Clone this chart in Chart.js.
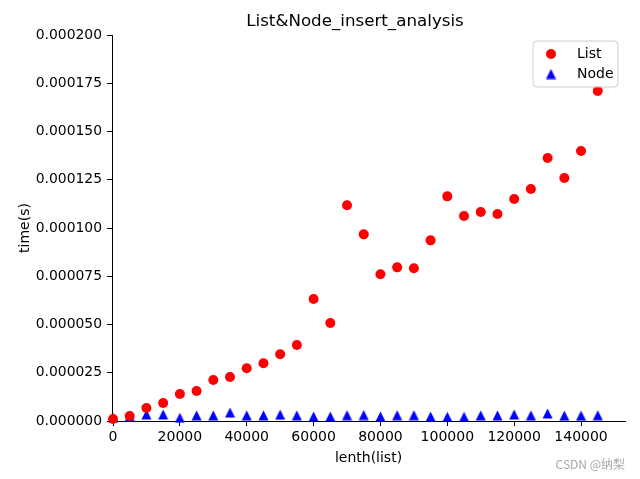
<!DOCTYPE html>
<html>
<head>
<meta charset="utf-8">
<script src="https://cdn.jsdelivr.net/npm/chart.js@4/dist/chart.umd.min.js"></script>
<style>
  html, body { margin: 0; padding: 0; background: #fff; }
  #wrap { width: 640px; height: 479px; position: relative; }
</style>
</head>
<body>
<div id="wrap"><canvas id="insertChart" width="640" height="479"></canvas></div>
<script>
// list length used for each test
const lengths = [0, 5000, 10000, 15000, 20000, 25000, 30000, 35000, 40000, 45000,
  50000, 55000, 60000, 65000, 70000, 75000, 80000, 85000, 90000, 95000,
  100000, 105000, 110000, 115000, 120000, 125000, 130000, 135000, 140000, 145000];

// insert time in seconds
const listTimes = [0.0000010, 0.0000026, 0.0000067, 0.0000093, 0.0000140, 0.0000155, 0.0000212, 0.0000228, 0.0000273, 0.0000299,
  0.0000346, 0.0000394, 0.0000632, 0.0000508, 0.0001118, 0.0000967, 0.0000760, 0.0000796, 0.0000791, 0.0000936,
  0.0001164, 0.0001062, 0.0001083, 0.0001073, 0.0001150, 0.0001202, 0.0001363, 0.0001259, 0.0001399, 0.0001710];
const nodeTimes = [0.0000017, 0.0000024, 0.0000034, 0.0000034, 0.0000017, 0.0000029, 0.0000029, 0.0000044, 0.0000029, 0.0000029,
  0.0000033, 0.0000029, 0.0000023, 0.0000023, 0.0000030, 0.0000031, 0.0000023, 0.0000030, 0.0000030, 0.0000023,
  0.0000022, 0.0000022, 0.0000029, 0.0000029, 0.0000034, 0.0000029, 0.0000039, 0.0000028, 0.0000028, 0.0000030];

const xTicks = [0, 20000, 40000, 60000, 80000, 100000, 120000, 140000];
const yTicks = [0, 0.000025, 0.00005, 0.000075, 0.0001, 0.000125, 0.00015, 0.000175, 0.0002];

const font = "'DejaVu Sans', sans-serif";

// matplotlib style triangle ('^'), centered on its box
function triangleMarker(color) {
  const c = document.createElement('canvas');
  c.width = 11; c.height = 11;
  const g = c.getContext('2d');
  g.fillStyle = color;
  g.beginPath();
  g.moveTo(5.5, 0.5);
  g.lineTo(10.5, 10.5);
  g.lineTo(0.5, 10.5);
  g.closePath();
  g.fill();
  return c;
}
const nodeMarker = triangleMarker('#0000ff');

const extras = {
  id: 'extras',
  afterDraw(chart) {
    const ctx = chart.ctx;
    ctx.save();
    // title
    ctx.fillStyle = '#000';
    ctx.font = "16.7px " + font;
    ctx.textAlign = 'center';
    ctx.textBaseline = 'middle';
    ctx.fillText('List&Node_insert_analysis', 355, 22);

    // legend box
    const bx = 533, by = 41, bw = 85, bh = 46, r = 4;
    ctx.beginPath();
    ctx.moveTo(bx + r, by);
    ctx.arcTo(bx + bw, by, bx + bw, by + bh, r);
    ctx.arcTo(bx + bw, by + bh, bx, by + bh, r);
    ctx.arcTo(bx, by + bh, bx, by, r);
    ctx.arcTo(bx, by, bx + bw, by, r);
    ctx.closePath();
    ctx.fillStyle = 'rgba(255,255,255,0.8)';
    ctx.fill();
    ctx.strokeStyle = '#cccccc';
    ctx.lineWidth = 1;
    ctx.stroke();

    ctx.fillStyle = '#ff0000';
    ctx.beginPath();
    ctx.arc(551, 54, 5, 0, Math.PI * 2);
    ctx.fill();
    ctx.drawImage(nodeMarker, 551 - 5.5, 74 - 5.5);

    ctx.fillStyle = '#000';
    ctx.font = "14px " + font;
    ctx.textAlign = 'left';
    ctx.fillText(chart.data.datasets[0].label, 577, 54);
    ctx.fillText(chart.data.datasets[1].label, 577, 74);

    // watermark
    ctx.fillStyle = '#a8a8a8';
    ctx.font = "12px 'Noto Sans CJK SC', sans-serif";
    ctx.textAlign = 'right';
    ctx.fillText('CSDN @纳梨', 625, 464);
    ctx.restore();
  }
};

const ctx = document.getElementById('insertChart').getContext('2d');
const chart = new Chart(ctx, {
  type: 'scatter',
  data: {
    datasets: [{
      label: 'List',
      data: lengths.map((x, i) => ({ x: x, y: listTimes[i] })),
      backgroundColor: '#ff0000',
      borderWidth: 0,
      pointRadius: 5,
      clip: false
    }, {
      label: 'Node',
      data: lengths.map((x, i) => ({ x: x, y: nodeTimes[i] })),
      backgroundColor: '#0000ff',
      borderWidth: 0,
      pointStyle: nodeMarker,
      pointRadius: 5,
      clip: false
    }]
  },
  options: {
    responsive: false,
    animation: false,
    events: [],
    layout: { padding: { top: 35, right: 15, bottom: 0, left: 0 } },
    plugins: {
      legend: { display: false },
      title: { display: false },
      tooltip: { enabled: false }
    },
    scales: {
      x: {
        type: 'linear',
        min: -300,
        max: 153150,
        afterBuildTicks: s => { s.ticks = xTicks.map(v => ({ value: v })); },
        afterFit: s => { s.height = 58; },
        grid: { drawOnChartArea: false, drawTicks: true, tickLength: 5, color: '#000' },
        border: { display: true, color: '#000', width: 1 },
        ticks: { color: '#000', font: { family: font, size: 14 }, padding: 3, maxRotation: 0,
          callback: v => String(v) },
        title: { display: true, text: 'lenth(list)', color: '#000',
          font: { family: font, size: 14 }, padding: { top: 0, bottom: 12 } }
      },
      y: {
        min: 0,
        max: 0.0002,
        afterBuildTicks: s => { s.ticks = yTicks.map(v => ({ value: v })); },
        afterFit: s => { s.width = 112; },
        grid: { drawOnChartArea: false, drawTicks: true, tickLength: 5, color: '#000' },
        border: { display: true, color: '#000', width: 1 },
        ticks: { color: '#000', font: { family: font, size: 13.9 }, padding: 5,
          callback: v => v.toFixed(6) },
        title: { display: true, text: 'time(s)', color: '#000',
          font: { family: font, size: 14 }, padding: { top: 16.5, bottom: 0 } }
      }
    }
  },
  plugins: [extras]
});
</script>
</body>
</html>
